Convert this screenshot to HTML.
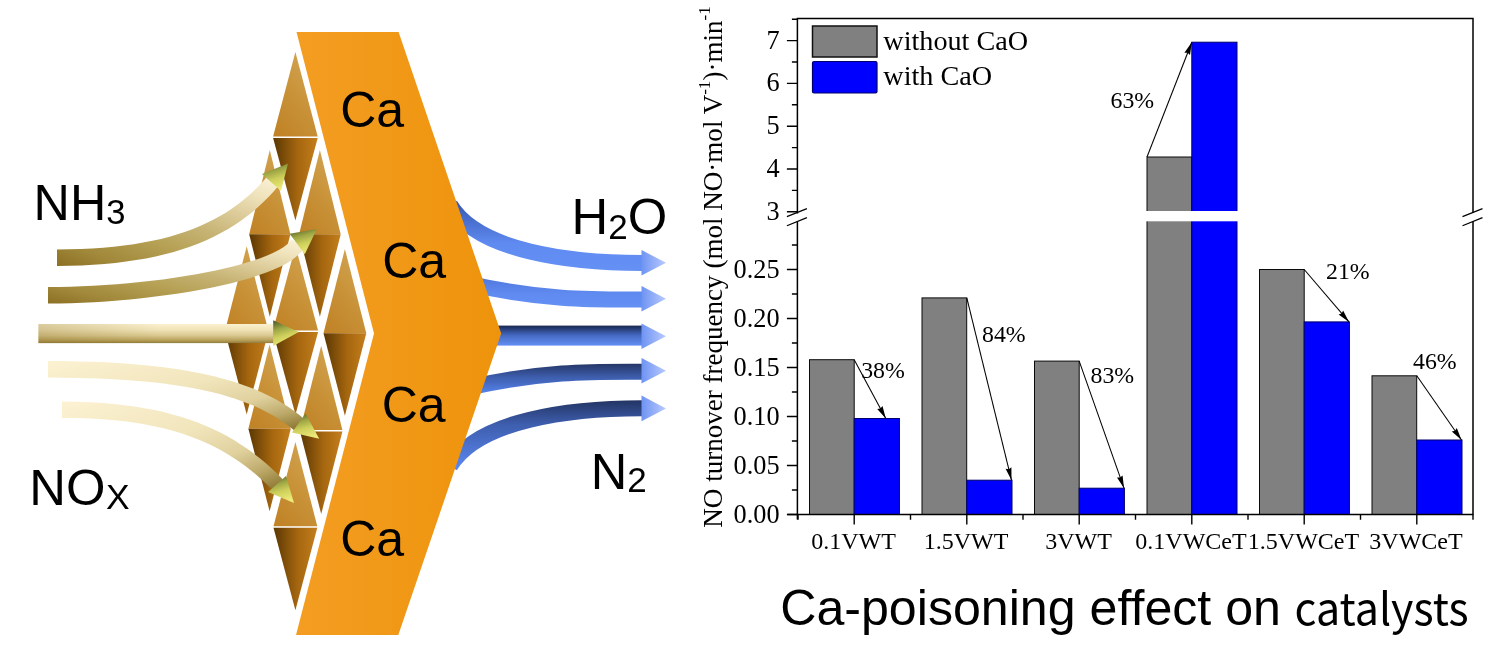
<!DOCTYPE html>
<html lang="en"><head><meta charset="utf-8"><title>Ca-poisoning effect on catalysts</title>
<style>html,body{margin:0;padding:0;background:#fff;}body{width:1500px;height:670px;overflow:hidden;}svg{display:block;}.sans{font-family:"Liberation Sans",Arial,Helvetica,sans-serif;}.serif{font-family:"Liberation Serif","Times New Roman",Times,serif;}.cjk{font-family:"Noto Sans CJK SC","Liberation Sans",sans-serif;}text{fill:#000;}</style></head><body>
<svg width="1500" height="670" viewBox="0 0 1500 670">
<defs>
<linearGradient id="gChev" gradientUnits="userSpaceOnUse" x1="296" y1="0" x2="501" y2="0"><stop offset="0" stop-color="#F39D22"/><stop offset="1" stop-color="#EE930B"/></linearGradient>
<linearGradient id="gLight" x1="0.2" y1="1" x2="0.8" y2="0"><stop offset="0" stop-color="#C18327"/><stop offset="0.5" stop-color="#C99339"/><stop offset="1" stop-color="#D3A656"/></linearGradient>
<linearGradient id="gDark" x1="0" y1="0" x2="1" y2="0"><stop offset="0" stop-color="#5A3703"/><stop offset="0.55" stop-color="#A5660F"/><stop offset="1" stop-color="#C47E1C"/></linearGradient>
<linearGradient id="gHead" x1="0.25" y1="0" x2="0.55" y2="1"><stop offset="0" stop-color="#55622A"/><stop offset="0.3" stop-color="#9DA544"/><stop offset="0.6" stop-color="#CFD05C"/><stop offset="1" stop-color="#EEEB7A"/></linearGradient>
<linearGradient id="gHeadB" x1="0" y1="0" x2="1" y2="0"><stop offset="0" stop-color="#6E93F2"/><stop offset="1" stop-color="#B9CBFF"/></linearGradient>
</defs>
<rect x="0" y="0" width="1500" height="670" fill="#ffffff"/>
<g id="blue-arrows">
<linearGradient id="gB1" gradientUnits="userSpaceOnUse" x1="0" y1="200" x2="0" y2="272"><stop offset="0" stop-color="#3454AE"/><stop offset="0.6" stop-color="#5F8AF0"/><stop offset="1" stop-color="#6591F5"/></linearGradient>
<linearGradient id="gB2" gradientUnits="userSpaceOnUse" x1="0" y1="272" x2="0" y2="308"><stop offset="0" stop-color="#4A72D6"/><stop offset="0.6" stop-color="#5F8AF0"/><stop offset="1" stop-color="#6591F5"/></linearGradient>
<linearGradient id="gB3" gradientUnits="userSpaceOnUse" x1="0" y1="325" x2="0" y2="346"><stop offset="0" stop-color="#16234A"/><stop offset="0.5" stop-color="#456AC4"/><stop offset="1" stop-color="#6591F5"/></linearGradient>
<linearGradient id="gB4" gradientUnits="userSpaceOnUse" x1="0" y1="363" x2="0" y2="392"><stop offset="0" stop-color="#233463"/><stop offset="0.5" stop-color="#3E5EAE"/><stop offset="1" stop-color="#5480E6"/></linearGradient>
<linearGradient id="gB5" gradientUnits="userSpaceOnUse" x1="0" y1="400" x2="0" y2="470"><stop offset="0" stop-color="#233463"/><stop offset="0.35" stop-color="#3E5EAE"/><stop offset="1" stop-color="#5B88F0"/></linearGradient>
<path d="M450 205 C478.2 251.7 571 263 642 263" fill="none" stroke="url(#gB1)" stroke-width="16"/>
<polygon points="641.5,250.0 666,262.8 641.5,275.6" fill="url(#gHeadB)"/>
<path d="M470 284 C546 300.8 596.5 299.5 642 299.5" fill="none" stroke="url(#gB2)" stroke-width="16"/>
<polygon points="641.5,286.0 666,298.8 641.5,311.6" fill="url(#gHeadB)"/>
<rect x="490" y="325.6" width="152" height="20" fill="url(#gB3)"/>
<polygon points="641.5,323.4 666,336.2 641.5,349.0" fill="url(#gHeadB)"/>
<path d="M470 387.20000000000005 C546 370.40000000000003 596.5 371.70000000000005 642 371.70000000000005" fill="none" stroke="url(#gB4)" stroke-width="16"/>
<polygon points="641.5,358.0 666,370.8 641.5,383.6" fill="url(#gHeadB)"/>
<path d="M450 466.20000000000005 C478.2 419.50000000000006 571 408.20000000000005 642 408.20000000000005" fill="none" stroke="url(#gB5)" stroke-width="16"/>
<polygon points="641.5,395.6 666,408.4 641.5,421.2" fill="url(#gHeadB)"/>
</g>
<polygon id="chevron" points="296.5,32 398.6,32 501.2,333.5 398.3,635 296,635 374,333.5" fill="url(#gChev)"/>
<g id="honeycomb">
<polygon points="295.4,52.1 317.7,136.4 273.1,136.4" fill="url(#gLight)"/>
<polygon points="273.1,137.9 317.7,137.9 295.4,220.4" fill="url(#gDark)"/>
<polygon points="269.8,149.9 290.4,234.2 249.2,234.2" fill="url(#gLight)"/>
<polygon points="249.2,234.2 290.4,234.2 269.8,316.7" fill="url(#gDark)"/>
<polygon points="319.9,149.9 340.7,234.2 299.1,234.2" fill="url(#gLight)"/>
<polygon points="299.1,234.2 340.7,234.2 319.9,316.7" fill="url(#gDark)"/>
<polygon points="246.7,246.3 268.3,330.6 225.1,330.6" fill="url(#gLight)"/>
<polygon points="225.1,332.1 268.3,332.1 246.7,414.6" fill="url(#gDark)"/>
<polygon points="295.5,246.3 318.1,330.6 272.9,330.6" fill="url(#gLight)"/>
<polygon points="272.9,332.1 318.1,332.1 295.5,414.6" fill="url(#gDark)"/>
<polygon points="344.9,249.0 366.3,333.3 323.5,333.3" fill="url(#gLight)"/>
<polygon points="323.5,333.3 366.3,333.3 344.9,415.8" fill="url(#gDark)"/>
<polygon points="269.6,344.5 290.8,428.8 248.4,428.8" fill="url(#gLight)"/>
<polygon points="248.4,428.8 290.8,428.8 269.6,511.3" fill="url(#gDark)"/>
<polygon points="321.2,345.8 342.4,430.1 300.0,430.1" fill="url(#gLight)"/>
<polygon points="300.0,431.6 342.4,431.6 321.2,514.0" fill="url(#gDark)"/>
<polygon points="295.4,441.9 317.3,526.2 273.5,526.2" fill="url(#gLight)"/>
<polygon points="273.5,527.8 317.3,527.8 295.4,610.2" fill="url(#gDark)"/>
</g>
<g id="tan-arrows">
<linearGradient id="gTup" x1="0" y1="1" x2="1" y2="0"><stop offset="0" stop-color="#8C7024"/><stop offset="0.15" stop-color="#A1883A"/><stop offset="0.35" stop-color="#B5A054"/><stop offset="0.55" stop-color="#C8B577"/><stop offset="0.7" stop-color="#DDCC9A"/><stop offset="0.85" stop-color="#EFE3BC"/><stop offset="1" stop-color="#FBF3D8"/></linearGradient>
<linearGradient id="gTdn" x1="0" y1="0" x2="1" y2="1"><stop offset="0" stop-color="#FCF2D2"/><stop offset="0.45" stop-color="#F1E5BC"/><stop offset="0.68" stop-color="#E0D19E"/><stop offset="0.84" stop-color="#BCA868"/><stop offset="1" stop-color="#826C26"/></linearGradient>
<linearGradient id="gT3" gradientUnits="userSpaceOnUse" x1="0" y1="324" x2="0" y2="343.2"><stop offset="0" stop-color="#FBF1CF"/><stop offset="0.3" stop-color="#F0E3B8"/><stop offset="0.6" stop-color="#D9C88F"/><stop offset="0.85" stop-color="#B7A05A"/><stop offset="1" stop-color="#8F7A38"/></linearGradient>
<path d="M57.0 249.4 L69.1 249.3 L80.9 249.0 L92.2 248.5 L103.1 247.8 L113.7 246.8 L123.9 245.6 L133.7 244.2 L143.1 242.6 L152.3 240.8 L161.0 238.9 L169.5 236.7 L177.6 234.3 L185.4 231.7 L192.9 228.9 L200.1 226.0 L207.0 222.8 L213.6 219.5 L220.0 216.0 L226.1 212.4 L232.0 208.5 L237.6 204.5 L243.0 200.3 L248.2 196.0 L253.1 191.4 L257.9 186.7 L262.5 181.9 L266.9 176.8 L278.1 186.2 L273.4 191.7 L268.5 197.0 L263.4 202.1 L258.1 207.1 L252.5 211.9 L246.6 216.5 L240.6 221.0 L234.2 225.2 L227.7 229.2 L220.8 233.1 L213.7 236.7 L206.3 240.2 L198.6 243.4 L190.6 246.4 L182.3 249.2 L173.7 251.9 L164.8 254.2 L155.6 256.4 L146.1 258.4 L136.2 260.1 L126.0 261.6 L115.4 262.9 L104.5 264.0 L93.2 264.8 L81.5 265.5 L69.4 265.8 L57.0 266.0Z" fill="url(#gTup)"/>
<polygon points="262,174 288,163.6 281,191" fill="url(#gHead)"/>
<path d="M48.0 287.0 L59.0 286.9 L70.2 286.7 L81.6 286.3 L93.2 285.8 L104.9 285.1 L116.6 284.3 L128.3 283.3 L140.0 282.1 L151.6 280.8 L163.1 279.4 L174.3 277.8 L185.4 276.1 L196.2 274.3 L206.7 272.3 L216.8 270.3 L226.5 268.1 L235.8 265.7 L244.5 263.3 L252.7 260.8 L260.3 258.2 L267.2 255.5 L273.4 252.8 L278.8 250.0 L283.4 247.2 L287.0 244.4 L289.7 241.9 L291.5 239.6 L304.5 247.4 L301.1 252.0 L296.9 256.1 L292.0 259.9 L286.4 263.4 L280.1 266.7 L273.2 269.8 L265.7 272.8 L257.6 275.6 L248.9 278.4 L239.8 280.9 L230.2 283.4 L220.2 285.7 L209.8 287.9 L199.0 290.0 L188.0 291.9 L176.7 293.7 L165.2 295.3 L153.5 296.8 L141.7 298.2 L129.8 299.4 L117.9 300.5 L106.0 301.4 L94.1 302.2 L82.3 302.8 L70.7 303.2 L59.2 303.5 L48.0 303.6Z" fill="url(#gTup)"/>
<polygon points="289.6,233.8 316.8,229 304.8,254.2" fill="url(#gHead)"/>
<linearGradient id="gT3b" gradientUnits="userSpaceOnUse" x1="38" y1="0" x2="160" y2="0"><stop offset="0" stop-color="#8A6E24" stop-opacity="0.28"/><stop offset="1" stop-color="#8A6E24" stop-opacity="0"/></linearGradient>
<rect x="38.4" y="324" width="235.5" height="19.1" fill="url(#gT3)"/>
<rect x="38.4" y="324" width="122" height="19.1" fill="url(#gT3b)"/>
<polygon points="273.2,320.3 298.8,332 273.2,345.9" fill="url(#gHead)"/>
<path d="M48.0 361.0 L63.1 361.1 L77.6 361.4 L91.6 361.8 L105.1 362.3 L118.2 363.1 L130.7 364.0 L142.8 365.0 L154.4 366.2 L165.5 367.5 L176.3 369.0 L186.6 370.7 L196.5 372.5 L206.0 374.5 L215.1 376.6 L223.9 378.9 L232.3 381.3 L240.3 383.9 L248.0 386.7 L255.4 389.6 L262.5 392.7 L269.2 395.9 L275.7 399.3 L281.9 402.9 L287.8 406.6 L293.4 410.5 L298.8 414.5 L303.9 418.7 L294.1 430.3 L289.4 426.6 L284.5 422.9 L279.4 419.4 L274.0 416.1 L268.3 412.9 L262.3 409.8 L256.0 406.8 L249.5 404.0 L242.5 401.4 L235.3 398.8 L227.7 396.4 L219.7 394.1 L211.4 392.0 L202.6 390.0 L193.5 388.2 L183.9 386.5 L173.9 384.9 L163.5 383.5 L152.6 382.3 L141.3 381.2 L129.5 380.2 L117.2 379.4 L104.4 378.7 L91.1 378.2 L77.2 377.9 L62.9 377.7 L48.0 377.6Z" fill="url(#gTdn)"/>
<polygon points="305.6,413.6 319.2,438.8 292,432.4" fill="url(#gHead)"/>
<path d="M62.0 401.6 L73.5 401.7 L84.7 402.1 L95.6 402.6 L106.2 403.3 L116.5 404.3 L126.5 405.4 L136.2 406.8 L145.7 408.4 L154.8 410.1 L163.8 412.1 L172.4 414.4 L180.9 416.8 L189.1 419.5 L197.1 422.3 L204.9 425.5 L212.4 428.8 L219.8 432.3 L226.9 436.1 L233.9 440.1 L240.7 444.4 L247.3 448.8 L253.8 453.5 L260.1 458.4 L266.2 463.6 L272.2 468.9 L278.1 474.5 L283.8 480.4 L273.2 490.6 L267.7 485.2 L262.1 479.9 L256.5 474.9 L250.7 470.2 L244.7 465.6 L238.7 461.3 L232.5 457.2 L226.1 453.3 L219.6 449.6 L212.9 446.1 L206.0 442.8 L198.9 439.8 L191.6 436.9 L184.1 434.3 L176.3 431.8 L168.4 429.6 L160.1 427.5 L151.6 425.7 L142.9 424.0 L133.8 422.6 L124.5 421.3 L114.9 420.3 L105.0 419.4 L94.7 418.8 L84.1 418.3 L73.2 418.1 L62.0 418.0Z" fill="url(#gTdn)"/>
<polygon points="286,476 294,503 268,492" fill="url(#gHead)"/>
</g>
<text class="sans" x="340.2" y="126.7" font-size="50" >Ca</text>
<text class="sans" x="382.2" y="278.4" font-size="50" >Ca</text>
<text class="sans" x="381.7" y="421.8" font-size="50" >Ca</text>
<text class="sans" x="340.2" y="555.7" font-size="50" >Ca</text>
<text class="sans" x="33.6" y="219.9" font-size="50.3">NH<tspan font-size="34.6" dy="3.8">3</tspan></text>
<text class="sans" x="29.3" y="505" font-size="50.8">NO<tspan font-size="35.4" dy="3.9" dx="0.5">X</tspan></text>
<text class="sans" x="571.6" y="234.3" font-size="50.8">H<tspan font-size="35" dy="4.2">2</tspan><tspan font-size="50.8" dy="-4.2">O</tspan></text>
<text class="sans" x="590.8" y="488.8" font-size="50.6">N<tspan font-size="35" dy="3.6">2</tspan></text>
<g id="chart">
<rect x="809.5" y="359.7" width="44.7" height="154.8" fill="#808080" stroke="#0a0a0a" stroke-width="1"/>
<rect x="854.2" y="418.5" width="45.2" height="96.0" fill="#0000FF" stroke="#00006a" stroke-width="1"/>
<rect x="922.0" y="297.9" width="44.7" height="216.6" fill="#808080" stroke="#0a0a0a" stroke-width="1"/>
<rect x="966.8" y="480.2" width="45.2" height="34.3" fill="#0000FF" stroke="#00006a" stroke-width="1"/>
<rect x="1034.5" y="361.1" width="44.7" height="153.4" fill="#808080" stroke="#0a0a0a" stroke-width="1"/>
<rect x="1079.2" y="488.2" width="45.2" height="26.3" fill="#0000FF" stroke="#00006a" stroke-width="1"/>
<rect x="1147.0" y="157.0" width="44.7" height="357.5" fill="#808080" stroke="#0a0a0a" stroke-width="1"/>
<rect x="1191.8" y="42.2" width="45.2" height="472.3" fill="#0000FF" stroke="#00006a" stroke-width="1"/>
<rect x="1144.5" y="211" width="94.4" height="10.3" fill="#fff"/>
<rect x="1259.5" y="269.5" width="44.7" height="245.0" fill="#808080" stroke="#0a0a0a" stroke-width="1"/>
<rect x="1304.2" y="321.9" width="45.2" height="192.6" fill="#0000FF" stroke="#00006a" stroke-width="1"/>
<rect x="1372.0" y="375.8" width="44.7" height="138.7" fill="#808080" stroke="#0a0a0a" stroke-width="1"/>
<rect x="1416.8" y="440.0" width="45.2" height="74.5" fill="#0000FF" stroke="#00006a" stroke-width="1"/>
<path d="M797.4 213.5 V18.5 H1473 V213 M1473 221.5 V514.5 H787.4 M797.4 519.5 V221.5" fill="none" stroke="#000" stroke-width="1.5"/>
<path d="M786.9 216.6 L806.9 208.6 M786.9 225.8 L806.9 217.6" fill="none" stroke="#000" stroke-width="1.2"/>
<path d="M1462.5 216.6 L1482.5 208.6 M1462.5 225.8 L1482.5 217.6" fill="none" stroke="#000" stroke-width="1.2"/>
<path d="M797.4 211.8 h-10.5 M797.4 169.0 h-10.5 M797.4 126.2 h-10.5 M797.4 83.4 h-10.5 M797.4 40.6 h-10.5 M797.4 190.4 h-5.5 M797.4 147.6 h-5.5 M797.4 104.8 h-5.5 M797.4 62.0 h-5.5 M797.4 19.2 h-5.5 M797.4 514.5 h-10.5 M797.4 465.5 h-10.5 M797.4 416.5 h-10.5 M797.4 367.5 h-10.5 M797.4 318.5 h-10.5 M797.4 269.5 h-10.5 M797.4 490.0 h-5.5 M797.4 441.0 h-5.5 M797.4 392.0 h-5.5 M797.4 343.0 h-5.5 M797.4 294.0 h-5.5 M797.4 245.0 h-5.5 M854.2 514.5 v10 M966.8 514.5 v10 M1079.2 514.5 v10 M1191.8 514.5 v10 M1304.2 514.5 v10 M1416.8 514.5 v10 M798.0 514.5 v5.2 M910.5 514.5 v5.2 M1023.0 514.5 v5.2 M1135.5 514.5 v5.2 M1248.0 514.5 v5.2 M1360.5 514.5 v5.2 M1473.0 514.5 v5.2" fill="none" stroke="#000" stroke-width="1.4"/>
<text class="serif" x="779.6" y="219.79999999999998" font-size="26.3" text-anchor="end" >3</text>
<text class="serif" x="779.6" y="176.99999999999997" font-size="26.3" text-anchor="end" >4</text>
<text class="serif" x="779.6" y="134.2" font-size="26.3" text-anchor="end" >5</text>
<text class="serif" x="779.6" y="91.4" font-size="26.3" text-anchor="end" >6</text>
<text class="serif" x="779.6" y="48.6" font-size="26.3" text-anchor="end" >7</text>
<text class="serif" x="779.6" y="522.5" font-size="26.3" text-anchor="end" >0.00</text>
<text class="serif" x="779.6" y="473.5" font-size="26.3" text-anchor="end" >0.05</text>
<text class="serif" x="779.6" y="424.5" font-size="26.3" text-anchor="end" >0.10</text>
<text class="serif" x="779.6" y="375.5" font-size="26.3" text-anchor="end" >0.15</text>
<text class="serif" x="779.6" y="326.5" font-size="26.3" text-anchor="end" >0.20</text>
<text class="serif" x="779.6" y="277.5" font-size="26.3" text-anchor="end" >0.25</text>
<text class="serif" x="853.5" y="549.3" font-size="24" text-anchor="middle" >0.1VWT</text>
<text class="serif" x="966.0" y="549.3" font-size="24" text-anchor="middle" >1.5VWT</text>
<text class="serif" x="1078.5" y="549.3" font-size="24" text-anchor="middle" >3VWT</text>
<text class="serif" x="1191.0" y="549.3" font-size="24" text-anchor="middle" >0.1VWCeT</text>
<text class="serif" x="1303.5" y="549.3" font-size="24" text-anchor="middle" >1.5VWCeT</text>
<text class="serif" x="1416.0" y="549.3" font-size="24" text-anchor="middle" >3VWCeT</text>
<rect x="812.5" y="26" width="64.5" height="31" fill="#808080" stroke="#111" stroke-width="1.5"/>
<rect x="812.5" y="61.5" width="64.5" height="31.5" fill="#0000FF" stroke="#00006a" stroke-width="1.2" rx="1.5"/>
<text class="serif" x="883.3" y="50" font-size="28.2" text-anchor="start" >without CaO</text>
<text class="serif" x="883.3" y="85.4" font-size="28.2" text-anchor="start" >with CaO</text>
<path d="M854.2 359.7 L885.8 418.5" stroke="#000" stroke-width="1.05" fill="none"/>
<polygon points="885.8,418.5 877.2,408.9 880.4,408.5 882.5,406.0" fill="#000"/>
<path d="M966.8 297.9 L1011.5 480.2" stroke="#000" stroke-width="1.05" fill="none"/>
<polygon points="1011.5,480.2 1005.6,468.8 1008.8,469.3 1011.4,467.3" fill="#000"/>
<path d="M1079.2 361.1 L1124.0 488.2" stroke="#000" stroke-width="1.05" fill="none"/>
<polygon points="1124.0,488.2 1117.0,477.4 1120.2,477.6 1122.6,475.4" fill="#000"/>
<path d="M1147.0 157.0 L1191.8 42.2" stroke="#000" stroke-width="1.05" fill="none"/>
<polygon points="1191.8,42.2 1190.0,55.0 1187.7,52.7 1184.4,52.8" fill="#000"/>
<path d="M1304.2 269.5 L1349.0 321.9" stroke="#000" stroke-width="1.05" fill="none"/>
<polygon points="1349.0,321.9 1338.6,314.4 1341.7,313.4 1343.1,310.5" fill="#000"/>
<path d="M1416.8 375.8 L1461.5 440.0" stroke="#000" stroke-width="1.05" fill="none"/>
<polygon points="1461.5,440.0 1451.8,431.5 1455.0,430.8 1456.8,428.0" fill="#000"/>
<text class="serif" x="861.2" y="377.6" font-size="23.8" text-anchor="start" >38%</text>
<text class="serif" x="982" y="341.8" font-size="23.8" text-anchor="start" >84%</text>
<text class="serif" x="1090.5" y="383.2" font-size="23.8" text-anchor="start" >83%</text>
<text class="serif" x="1110.5" y="107.6" font-size="23.8" text-anchor="start" >63%</text>
<text class="serif" x="1326" y="278.5" font-size="23.8" text-anchor="start" >21%</text>
<text class="serif" x="1413" y="368.6" font-size="23.8" text-anchor="start" >46%</text>
<text class="serif" font-size="27.05" transform="translate(722.3,527.7) rotate(-90)" x="0" y="0">NO turnover frequency (mol NO·mol V<tspan font-size="17" dy="-12.5">-1</tspan><tspan dy="12.5">)·min</tspan><tspan font-size="17" dy="-12.5">-1</tspan></text>
</g>
<text class="sans" x="780.2" y="624.7" font-size="50.15">Ca-poisoning effect on</text>
<text class="cjk" x="1294.5" y="624.5" font-size="44.5" textLength="174" lengthAdjust="spacingAndGlyphs">catalysts</text>
</svg></body></html>
